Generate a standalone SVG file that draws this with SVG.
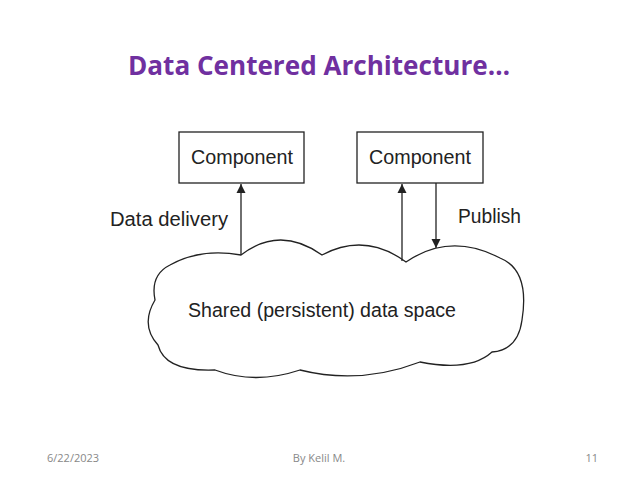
<svg xmlns="http://www.w3.org/2000/svg" width="638" height="478" viewBox="0 0 638 478">
<style>
.box{fill:#fff;stroke:#222;stroke-width:1.3}
.t{font-family:"Liberation Sans",Arial,sans-serif;fill:#222}
.f{font-family:"Open Sans","Liberation Sans",sans-serif;font-size:11px;fill:#888}
.c{fill:none;stroke:#222;stroke-width:1.3}
</style>
<defs><marker id="a" viewBox="0 0 10 10" refX="10" refY="5" markerWidth="7" markerHeight="8" orient="auto"><path d="M0,0L10,5L0,10z" fill="#222"/></marker></defs>
<rect width="638" height="478" fill="#fff"/>
<text x="319" y="75" text-anchor="middle" font-family="'Open Sans','Liberation Sans',sans-serif" font-weight="bold" font-size="27" fill="#7030A0" textLength="382" lengthAdjust="spacingAndGlyphs">Data Centered Architecture…</text>
<g id="cloud">
<path class="c" d="M170,265 Q200,248 241,255 Q280,225 322,255 Q365,232 406,262 Q450,232 500,258 Q530,270 522,320 Q518,350 492,352 Q470,372 420,362 Q360,385 300,370 Q255,385 215,370 Q165,372 158,345 Q140,325 155,300 Q150,275 170,265Z"/>
<text class="t" x="322" y="317" text-anchor="middle" font-size="20" textLength="268" lengthAdjust="spacingAndGlyphs">Shared (persistent) data space</text>
</g>
<g id="c1"><rect class="box" x="179" y="132" width="125" height="51"/><text class="t" x="242" y="164" text-anchor="middle" font-size="21" textLength="102" lengthAdjust="spacingAndGlyphs">Component</text></g>
<g id="c2"><rect class="box" x="357" y="132" width="126" height="51"/><text class="t" x="420" y="164" text-anchor="middle" font-size="21" textLength="102" lengthAdjust="spacingAndGlyphs">Component</text></g>
<g id="connectors">
<line class="c" x1="241" y1="255" x2="241" y2="184" marker-end="url(#a)"/>
<line class="c" x1="402" y1="261" x2="402" y2="184" marker-end="url(#a)"/>
<line class="c" x1="436" y1="183" x2="436" y2="248" marker-end="url(#a)"/>
</g>
<text class="t" x="110" y="226" font-size="20" textLength="118" lengthAdjust="spacingAndGlyphs">Data delivery</text>
<text class="t" x="458" y="223" font-size="20" textLength="63" lengthAdjust="spacingAndGlyphs">Publish</text>
<text class="f" x="47" y="462">6/22/2023</text>
<text class="f" x="319" y="462" text-anchor="middle">By Kelil M.</text>
<text class="f" x="598" y="462" text-anchor="end">11</text>
</svg>
